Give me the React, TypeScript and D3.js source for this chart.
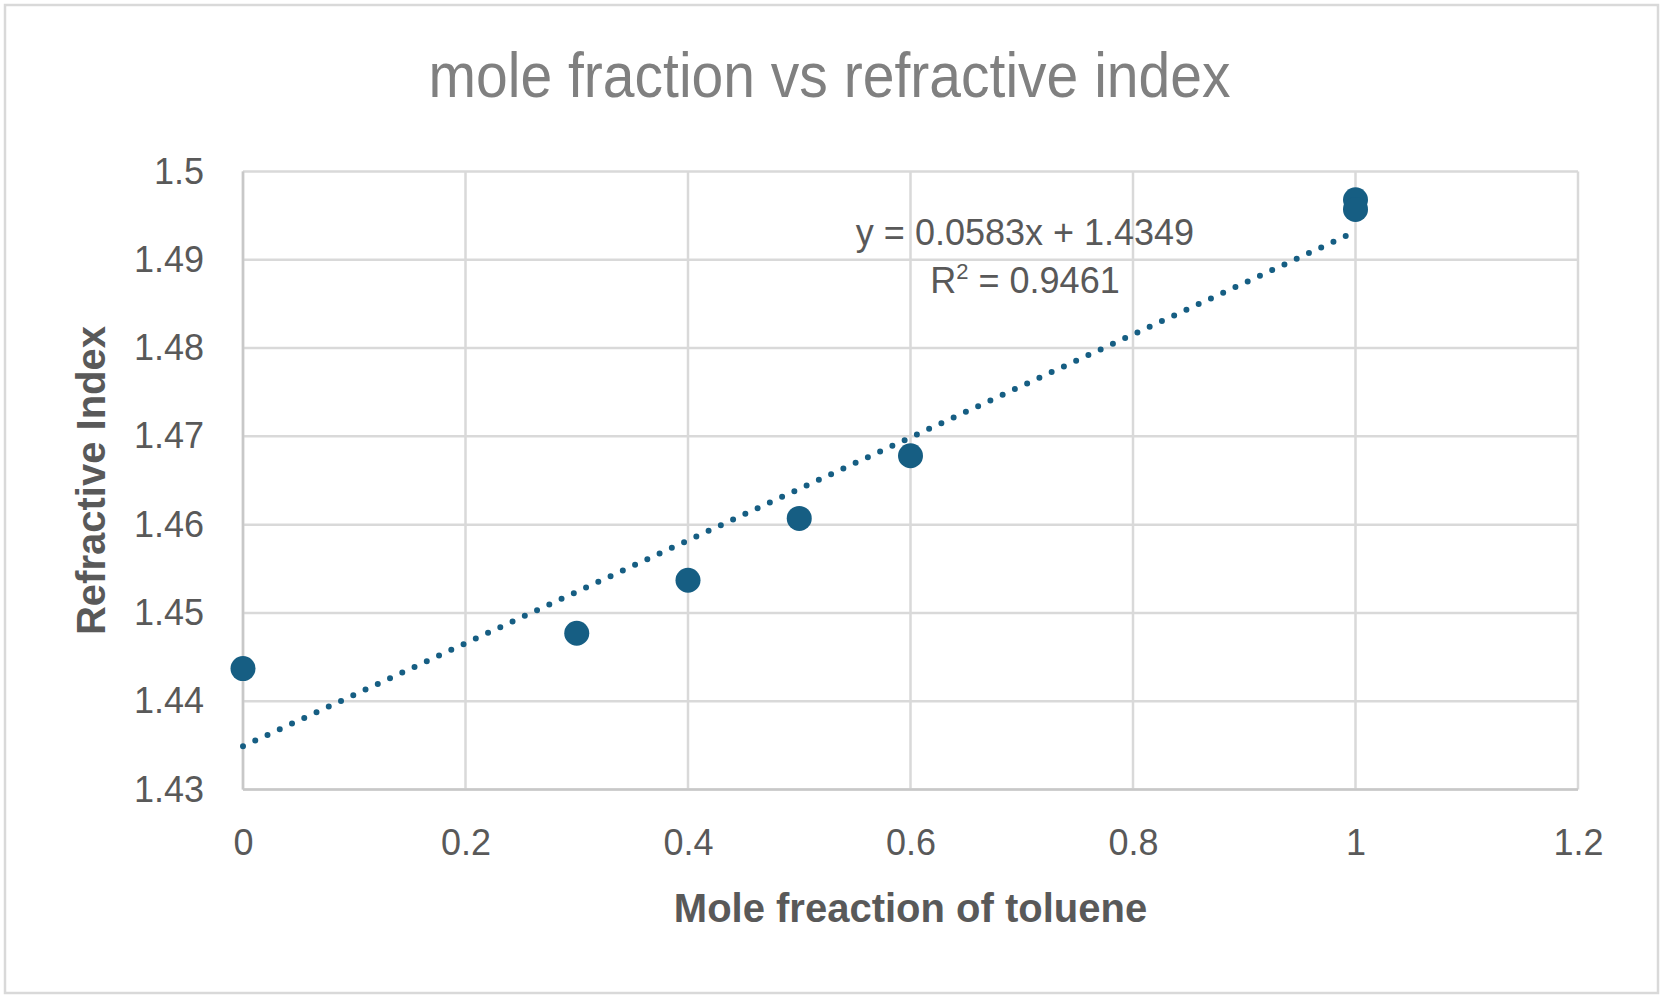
import React, { useEffect, useRef } from 'react';
import * as d3 from 'd3';

// data
const moleFraction = [0, 0.3, 0.4, 0.5, 0.6, 1, 1];
const refractiveIndex = [1.4437, 1.4477, 1.4537, 1.4607, 1.4678, 1.4968, 1.4957];
const xTicks = [0, 0.2, 0.4, 0.6, 0.8, 1, 1.2];
const yTicks = [1.43, 1.44, 1.45, 1.46, 1.47, 1.48, 1.49, 1.5];
const trendSlope = 0.0583;
const trendIntercept = 1.4349;
const trendR2 = 0.9461;
const trendRange = [0, 1];

const W = 1663;
const H = 999;

const App: React.FC = () => {
  const svgRef = useRef<SVGSVGElement>(null);

  useEffect(() => {
    if (!svgRef.current) return;
    const root = d3.select(svgRef.current);
    root.selectAll("*").remove();

    const margin = { top: 171.5, right: 85, bottom: 209.5, left: 243 };
    const width = W - margin.left - margin.right;
    const height = H - margin.top - margin.bottom;
    const tickColor = "#595959";
    const accent = "#165e83";

    // chart frame
    root.append("rect")
      .attr("x", 5).attr("y", 5)
      .attr("width", W - 10).attr("height", H - 11)
      .attr("fill", "#fff")
      .attr("stroke", "#d9d9d9")
      .attr("stroke-width", 2.5);

    // title
    root.append("text")
      .attr("x", W / 2 - 2)
      .attr("y", 97)
      .attr("text-anchor", "middle")
      .attr("font-family", "'Liberation Sans Narrow', 'Liberation Sans', sans-serif")
      .attr("font-size", 63)
      .attr("fill", "#808080")
      .attr("textLength", 802)
      .attr("lengthAdjust", "spacingAndGlyphs")
      .text("mole fraction vs refractive index");

    const svg = root.append("g")
      .attr("transform", `translate(${margin.left},${margin.top})`);

    const xScale = d3.scaleLinear().domain([0, 1.2]).range([0, width]);
    const yScale = d3.scaleLinear().domain([1.43, 1.5]).range([height, 0]);

    // grid
    svg.append("g")
      .selectAll("line")
      .data(yTicks)
      .enter()
      .append("line")
      .attr("x1", 0).attr("x2", width)
      .attr("y1", d => yScale(d)).attr("y2", d => yScale(d))
      .attr("stroke", "#d9d9d9")
      .attr("stroke-width", 2.5);

    svg.append("g")
      .selectAll("line")
      .data(xTicks)
      .enter()
      .append("line")
      .attr("x1", d => xScale(d)).attr("x2", d => xScale(d))
      .attr("y1", 0).attr("y2", height)
      .attr("stroke", "#d9d9d9")
      .attr("stroke-width", 2.5);

    // axis lines
    svg.append("line")
      .attr("x1", 0).attr("x2", 0).attr("y1", 0).attr("y2", height)
      .attr("stroke", "#c8c8c8").attr("stroke-width", 2.5);
    svg.append("line")
      .attr("x1", 0).attr("x2", width).attr("y1", height).attr("y2", height)
      .attr("stroke", "#c8c8c8").attr("stroke-width", 2.5);

    // tick labels
    const yAxis = svg.append("g")
      .call(d3.axisLeft(yScale).tickValues(yTicks).tickSize(0).tickPadding(39).tickFormat(d => String(d)));
    yAxis.select(".domain").remove();
    yAxis.selectAll("text")
      .attr("font-family", "'Liberation Sans', Arial, sans-serif")
      .attr("font-size", 36)
      .attr("fill", tickColor);

    const xAxis = svg.append("g")
      .attr("transform", `translate(0,${height})`)
      .call(d3.axisBottom(xScale).tickValues(xTicks).tickSize(0).tickPadding(40).tickFormat(d => String(d)));
    xAxis.select(".domain").remove();
    xAxis.selectAll("text")
      .attr("font-family", "'Liberation Sans', Arial, sans-serif")
      .attr("font-size", 36)
      .attr("fill", tickColor);

    // axis titles
    svg.append("text")
      .attr("x", width / 2)
      .attr("y", 922 - margin.top)
      .attr("text-anchor", "middle")
      .attr("font-family", "'Liberation Sans', Arial, sans-serif")
      .attr("font-weight", "bold")
      .attr("font-size", 40)
      .attr("fill", tickColor)
      .text("Mole freaction of toluene");

    svg.append("text")
      .attr("transform", `translate(${105 - margin.left},${height / 2}) rotate(-90)`)
      .attr("text-anchor", "middle")
      .attr("font-family", "'Liberation Sans', Arial, sans-serif")
      .attr("font-weight", "bold")
      .attr("font-size", 40)
      .attr("fill", tickColor)
      .text("Refractive Index");

    // trendline
    const trend = d3.line<number>()
      .x(d => xScale(d))
      .y(d => yScale(trendSlope * d + trendIntercept));

    svg.append("path")
      .datum(trendRange)
      .attr("fill", "none")
      .attr("stroke", accent)
      .attr("stroke-width", 6)
      .attr("stroke-linecap", "round")
      .attr("stroke-dasharray", "0 13.5")
      .attr("d", trend);

    // points
    svg.selectAll(".dot")
      .data(moleFraction)
      .enter()
      .append("circle")
      .attr("cx", d => xScale(d))
      .attr("cy", (_, i) => yScale(refractiveIndex[i]))
      .attr("r", 12.5)
      .attr("fill", accent);

    // equation label
    const label = svg.append("text")
      .attr("text-anchor", "middle")
      .attr("font-family", "'Liberation Sans', Arial, sans-serif")
      .attr("font-size", 36)
      .attr("fill", tickColor);
    label.append("tspan")
      .attr("x", 1025 - margin.left)
      .attr("y", 245 - margin.top)
      .text(`y = ${trendSlope}x + ${trendIntercept}`);
    const r2 = label.append("tspan")
      .attr("x", 1025 - margin.left)
      .attr("y", 293 - margin.top);
    r2.append("tspan").text("R");
    r2.append("tspan").attr("font-size", 22).attr("dy", -14).text("2");
    r2.append("tspan").attr("dy", 14).text(` = ${trendR2}`);
  }, []);

  return (
    <svg
      ref={svgRef}
      width={W}
      height={H}
      style={{ position: 'absolute', left: 0, top: 0, background: '#fff' }}
    />
  );
};

export default App;
